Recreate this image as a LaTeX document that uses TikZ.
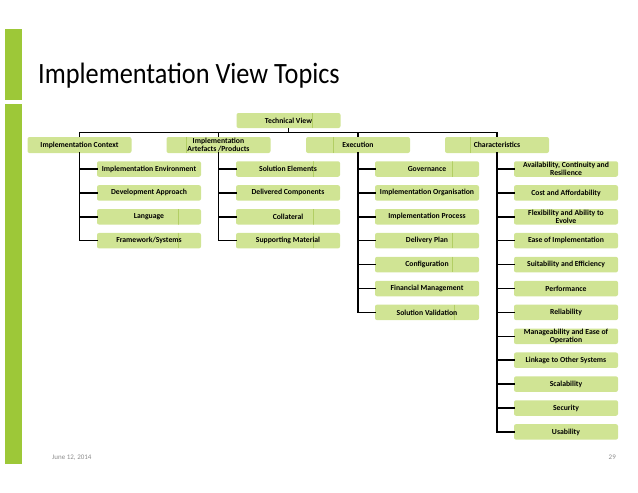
\documentclass[tikz,border=0pt]{standalone}
\usepackage{fontspec}
\setmainfont{Carlito}
\definecolor{barcol}{RGB}{157,200,56}
\definecolor{boxcol}{RGB}{208,228,148}
\definecolor{divcol}{RGB}{178,206,100}
\definecolor{footcol}{RGB}{140,140,140}
\begin{document}
\begin{tikzpicture}[x=1pt,y=-1pt,
  box/.style={fill=boxcol, rounded corners=2pt, minimum width=104pt, minimum height=15.5pt,
    inner sep=0pt, align=center, font=\fontsize{7.7}{7.8}\selectfont\bfseries},
  topbox/.style={box, minimum height=16pt},
  divat/.style={path picture={\draw[divcol, line width=0.6pt]
    ([xshift=#1]path picture bounding box.north west) -- ([xshift=#1]path picture bounding box.south west);}},
  conn/.style={draw=black, line width=1.5pt}]
\useasboundingbox (0,0) rectangle (638,493);
% side bars
\fill[barcol] (5,29) rectangle (22,100);
\fill[barcol] (5,103.5) rectangle (22,464);
% title
\node[anchor=base west, inner sep=0pt, font=\fontsize{26.3}{30}\selectfont] (title) at (38,83) {\scalebox{1}[1.12]{Implementation View Topics}};
% footer
\node[anchor=base west, inner sep=0pt, text=footcol, font=\fontsize{7}{8}\selectfont] (date) at (52,459.5) {June 12, 2014};
\node[anchor=base east, inner sep=0pt, text=footcol, font=\fontsize{7}{8}\selectfont] (page) at (616,459.5) {29};
% top level
\node[topbox, divat=76pt, minimum height=15pt] (tv) at (288.5,120.5) {Technical View};
\coordinate (bus) at (0,132.5);
\node[topbox] (ic) at (79.5,145) {Implementation Context};
\node[topbox, divat=20pt] (ia) at (218.5,145) {Implementation\\Artefacts /Products};
\node[topbox, divat=27pt] (ex) at (358,145) {Execution};
\node[topbox, divat=25pt] (ch) at (497,145) {Characteristics};
% column 1
\node[box] (c1a) at (149,169) {Implementation Environment};
\node[box] (c1b) at (149,192.9) {Development Approach};
\node[box, divat=81pt] (c1c) at (149,216.8) {Language};
\node[box, divat=81pt] (c1d) at (149,240.7) {Framework/Systems};
% column 2
\node[box, divat=77pt] (c2a) at (288,169) {Solution Elements};
\node[box] (c2b) at (288,192.9) {Delivered Components};
\node[box, divat=77pt] (c2c) at (288,216.8) {Collateral};
\node[box, divat=77pt] (c2d) at (288,240.7) {Supporting Material};
% column 3
\node[box, divat=77pt] (c3a) at (427,169) {Governance};
\node[box] (c3b) at (427,192.9) {Implementation Organisation};
\node[box] (c3c) at (427,216.8) {Implementation Process};
\node[box, divat=77pt] (c3d) at (427,240.7) {Delivery Plan};
\node[box, divat=77pt] (c3e) at (427,264.6) {Configuration};
\node[box] (c3f) at (427,288.5) {Financial Management};
\node[box, divat=79pt] (c3g) at (427,312.4) {Solution Validation};
% column 4
\node[box] (c4a) at (566,169) {Availability, Continuity and\\Resilience};
\node[box] (c4b) at (566,192.9) {Cost and Affordability};
\node[box] (c4c) at (566,216.8) {Flexibility and Ability to\\Evolve};
\node[box] (c4d) at (566,240.7) {Ease of Implementation};
\node[box] (c4e) at (566,264.6) {Suitability and Efficiency};
\node[box] (c4f) at (566,288.5) {Performance};
\node[box] (c4g) at (566,312.4) {Reliability};
\node[box] (c4h) at (566,336.3) {Manageability and Ease of\\Operation};
\node[box] (c4i) at (566,360.2) {Linkage to Other Systems};
\node[box] (c4j) at (566,384.1) {Scalability};
\node[box] (c4k) at (566,408) {Security};
\node[box] (c4l) at (566,431.9) {Usability};
% connectors
\draw[conn] (tv.south) -- (tv.south |- bus);
\draw[conn] (ic.north) |- (bus -| ch.north) -- (ch.north);
\draw[conn] (ia.north) -- (ia.north |- bus);
\draw[conn] (ex.north) -- (ex.north |- bus);
\foreach \p/\c in {ic/c1a,ic/c1b,ic/c1c,ic/c1d,
                   ia/c2a,ia/c2b,ia/c2c,ia/c2d,
                   ex/c3a,ex/c3b,ex/c3c,ex/c3d,ex/c3e,ex/c3f,ex/c3g,
                   ch/c4a,ch/c4b,ch/c4c,ch/c4d,ch/c4e,ch/c4f,ch/c4g,ch/c4h,ch/c4i,ch/c4j,ch/c4k,ch/c4l}
  \draw[conn, line cap=rect] (\p.south) |- (\c.west);
\end{tikzpicture}
\end{document}
